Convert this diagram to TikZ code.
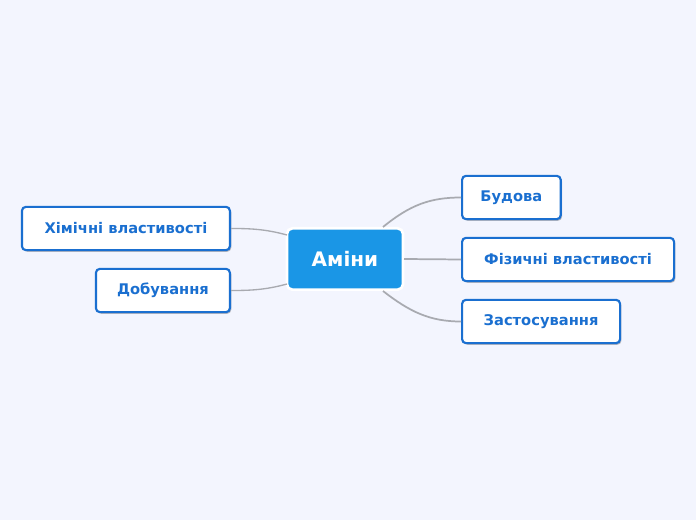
\documentclass[tikz,border=0pt]{standalone}
\usepackage{fontspec}
\setmainfont{DejaVu Sans}
\usetikzlibrary{shadows}
\definecolor{bg}{HTML}{F3F5FE}
\definecolor{mainblue}{HTML}{1A96E6}
\definecolor{txtblue}{HTML}{1A6FD0}
\definecolor{linec}{HTML}{A8AAB0}
\begin{document}
\begin{tikzpicture}[x=0.75pt,y=-0.75pt,
  child/.style={draw=txtblue,line width=1.6pt,fill=white,rounded corners=3pt,
    text=txtblue,font=\bfseries\fontsize{11pt}{13pt}\selectfont,
    minimum height=32.5pt,inner xsep=0pt,anchor=west,
    drop shadow={shadow xshift=1pt,shadow yshift=-1.2pt,fill=black,opacity=0.25}},
  conn/.style={draw=linec,line width=1.3pt}]
\fill[bg] (0,0) rectangle (696,520);
\useasboundingbox (0,0) rectangle (696,520);
\node[draw=white,line width=2pt,fill=mainblue,rounded corners=4pt,text=white,
  font=\bfseries\fontsize{15pt}{18pt}\selectfont,minimum width=87pt,minimum height=46pt]
  (c) at (345,259) {Аміни};
\node[child,minimum width=74pt] (b) at (461,197.5) {Будова};
\node[child,minimum width=159pt] (f) at (461,259.5) {Фізичні властивості};
\node[child,minimum width=118.5pt] (z) at (461,321.5) {Застосування};
\node[child,anchor=east,minimum width=156pt] (h) at (231,228.5) {Хімічні властивості};
\node[child,anchor=east,minimum width=100.5pt] (d) at (231,290.5) {Добування};
\draw[conn] (383,227) .. controls (410,205) and (430,197.5) .. (b.west);
\draw[conn] (404,259) -- (f.west);
\draw[conn] (383,291) .. controls (410,312) and (430,321.5) .. (z.west);
\draw[conn,line width=1pt] (287,235) .. controls (265,229) and (250,228.5) .. (h.east);
\draw[conn,line width=1pt] (287,284) .. controls (265,290) and (250,290.5) .. (d.east);
\end{tikzpicture}
\end{document}
